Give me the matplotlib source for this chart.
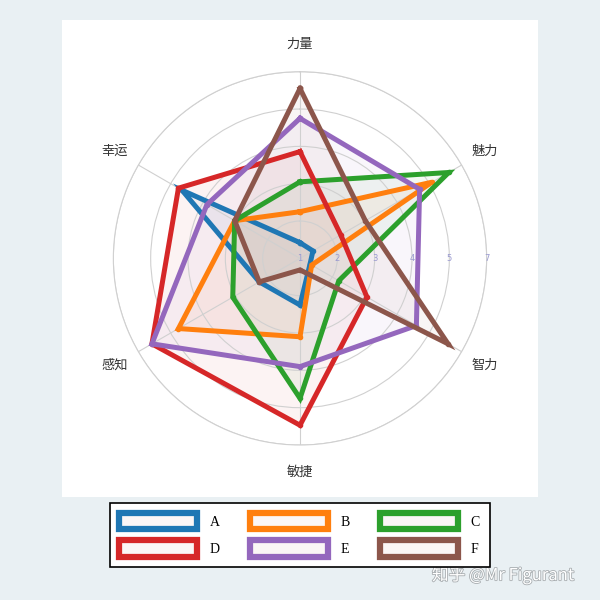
import numpy as np
import matplotlib.pyplot as plt
from matplotlib.patches import Rectangle
import matplotlib.patheffects as pe

plt.rcParams['font.family'] = ['Noto Sans CJK SC', 'DejaVu Sans']

# axes order: clockwise from the top
categories = ['力量', '魅力', '智力', '敏捷', '感知', '幸运']
series_names = ['A', 'B', 'C', 'D', 'E', 'F']
values_a = [0.42, 0.40, 0.31, 1.25, 1.26, 3.65]
values_b = [1.25, 4.08, 0.36, 2.10, 3.76, 2.02]
values_c = [2.05, 4.60, 1.20, 3.75, 2.08, 2.02]
values_d = [2.86, 1.26, 2.07, 4.47, 4.58, 3.76]
values_e = [3.75, 3.70, 3.60, 2.90, 4.58, 2.88]
values_f = [4.55, 2.02, 4.58, 0.31, 1.26, 2.02]
ring_ticks = [0, 1, 2, 3, 4, 5]
ring_labels = ['1', '2', '3', '4', '5', '7']
colors = ['#1f77b4', '#ff7f0e', '#2ca02c', '#d62728', '#9467bd', '#8c564b']

all_values = [values_a, values_b, values_c, values_d, values_e, values_f]

fig = plt.figure(figsize=(6, 6), dpi=100, facecolor='#e9f0f3')
fig.patches.append(Rectangle((0.103, 0.172), 0.794, 0.795, transform=fig.transFigure,
                             facecolor='white', edgecolor='none', zorder=-10))

ax = fig.add_axes([0.1889, 0.2583, 0.6222, 0.6222], polar=True)
ax.set_facecolor('white')
ax.set_theta_offset(np.pi / 2)
ax.set_theta_direction(-1)

angles = np.linspace(0, 2 * np.pi, len(categories), endpoint=False)
closed_angles = np.concatenate([angles, angles[:1]])

for name, vals, col in zip(series_names, all_values, colors):
    v = np.concatenate([vals, vals[:1]])
    ax.plot(closed_angles, v, color=col, linewidth=3.6, marker='o', markersize=3,
            solid_joinstyle='miter', label=name)
    ax.fill(closed_angles, v, color=col, alpha=0.055)

ax.set_ylim(0, 5)
ax.set_yticks(ring_ticks)
ax.set_yticklabels([])
ax.set_xticks(angles)
ax.set_xticklabels([])
ax.grid(color='#d0d0d0', linewidth=0.8)
ax.spines['polar'].set_color('#d0d0d0')
ax.spines['polar'].set_linewidth(0.8)
ax.tick_params(length=0)

for r, lab in zip(ring_ticks, ring_labels):
    ax.text(np.pi / 2, r, lab, ha='center', va='center', fontsize=6,
            color='#9a9ad0', family='DejaVu Sans')

for a, cat in zip(angles, categories):
    ax.text(a, 5.72, cat, ha='center', va='center', fontsize=9.5, color='#333333',
            clip_on=False)

handles = [Rectangle((0, 0), 1, 1, facecolor='#fbf6f6', edgecolor=c, linewidth=4.5)
           for c in colors]
# legend fills column by column: reorder so rows read A B C / D E F
order = [0, 3, 1, 4, 2, 5]
leg = fig.legend([handles[i] for i in order], [series_names[i] for i in order],
                 loc='upper center', bbox_to_anchor=(0.4995, 0.162), borderaxespad=0,
                 ncol=3, fancybox=False, framealpha=1, edgecolor='black',
                 handlelength=5.6, handleheight=1.5, handletextpad=0.9,
                 columnspacing=2.2, borderpad=0.7, labelspacing=0.75,
                 prop={'family': 'Liberation Serif', 'size': 10})
leg.get_frame().set_linewidth(1.2)

fig.text(0.72, 0.033, '知乎 @Mr Figurant', fontsize=12, color='white',
         path_effects=[pe.withStroke(linewidth=1.2, foreground='#a8adb0')])

fig.savefig('out.png', dpi=100, facecolor=fig.get_facecolor())
